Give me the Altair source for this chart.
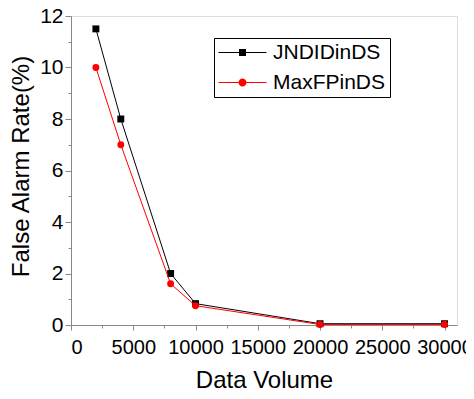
import altair as alt
import pandas as pd

volumes = [2000, 4000, 8000, 10000, 20000, 30000]
jndid = [11.5, 8.0, 2.0, 0.83, 0.05, 0.05]
maxfp = [10.0, 7.0, 1.6, 0.75, 0.02, 0.02]
series_names = ["JNDIDinDS", "MaxFPinDS"]
series_colors = ["#000000", "#ff0000"]
series_shapes = ["square", "circle"]
x_major = [0, 5000, 10000, 15000, 20000, 25000, 30000]
x_minor = [2500, 7500, 12500, 17500, 22500, 27500]
y_major = [0, 2, 4, 6, 8, 10, 12]
y_minor = [1, 3, 5, 7, 9, 11]

df = pd.DataFrame({
    "volume": volumes + volumes,
    "rate": jndid + maxfp,
    "series": [series_names[0]] * len(volumes) + [series_names[1]] * len(volumes),
})

FONT = "Liberation Sans"

xscale = alt.Scale(domain=[0, 31000], nice=False, zero=False)
yscale = alt.Scale(domain=[0, 12], nice=False, zero=False)

# legend symbols: a thin bar (the line) with a marker on it, all filled
square_path = "M-1,-0.05H3.8V0.05H-1ZM1.05,-0.35H1.75V0.35H1.05Z"
circle_path = "M-1,-0.05H3.8V0.05H-1ZM1.8,0A0.4,0.4,0,1,1,1.0,0A0.4,0.4,0,1,1,1.8,0Z"

base = alt.Chart(df)

x_axis_major = alt.Axis(
    values=x_major, title="Data Volume", orient="bottom", grid=False,
    tickSize=5, labelFontSize=20, labelPadding=7, format="d",
    titleFontSize=24, titleFontWeight="normal", titleBaseline="alphabetic",
    titleY=62, titleX=193, titleAlign="center",
)
y_axis_major = alt.Axis(
    values=y_major, title="False Alarm Rate(%)", orient="left", grid=False,
    tickSize=6, labelFontSize=21, labelPadding=2,
    titleFontSize=24, titleFontWeight="normal", titleBaseline="alphabetic",
    titleX=-43, titleY=150, titleAngle=270, titleAlign="center",
)
x_axis_minor = alt.Axis(values=x_minor, labels=False, domain=False, grid=False,
                        tickSize=3, title=None, orient="bottom")
y_axis_minor = alt.Axis(values=y_minor, labels=False, domain=False, grid=False,
                        tickSize=3, title=None, orient="left")

def series_layers(i, xa, ya):
    sub = base.transform_filter(alt.datum.series == series_names[i])
    line = sub.mark_line(strokeWidth=1, color=series_colors[i]).encode(
        x=alt.X("volume:Q", scale=xscale, axis=xa),
        y=alt.Y("rate:Q", scale=yscale, axis=ya),
    )
    pts = sub.mark_point(filled=True, size=48, opacity=1, shape=series_shapes[i],
                         color=series_colors[i]).encode(
        x=alt.X("volume:Q", scale=xscale, axis=None),
        y=alt.Y("rate:Q", scale=yscale, axis=None),
    )
    return [line, pts]

leg = alt.Legend(
    title=None, orient="none", legendX=143, legendY=22, padding=4,
    strokeColor="#000000", symbolSize=400, symbolOpacity=1, symbolStrokeWidth=0,
    labelFontSize=21, labelOffset=34, rowPadding=8, labelColor="#000000",
)

legend_layer = base.transform_filter("false").mark_point(filled=True).encode(
    x=alt.X("volume:Q", scale=xscale, axis=None),
    y=alt.Y("rate:Q", scale=yscale, axis=None),
    color=alt.Color("series:N", scale=alt.Scale(domain=series_names, range=series_colors), legend=leg),
    shape=alt.Shape("series:N", scale=alt.Scale(domain=series_names, range=[square_path, circle_path]), legend=leg),
)

layers = (series_layers(0, x_axis_major, y_axis_major)
          + series_layers(1, x_axis_minor, y_axis_minor)
          + [legend_layer])

chart = alt.layer(*layers).resolve_axis(
    x="independent", y="independent"
).properties(
    width=386, height=309,
    autosize=alt.AutoSizeParams(type="none"),
    padding={"left": 63, "top": 8, "right": 9, "bottom": 66},
).configure_view(
    stroke=None
).configure_axis(
    labelFont=FONT, titleFont=FONT, labelColor="#000000", titleColor="#000000",
    domainColor="#000000", tickColor="#000000", domainWidth=1, tickWidth=1, grid=False,
).configure_legend(
    labelFont=FONT,
).configure(font=FONT)

chart.save("out.html", embed_options={"renderer": "svg", "actions": False})
